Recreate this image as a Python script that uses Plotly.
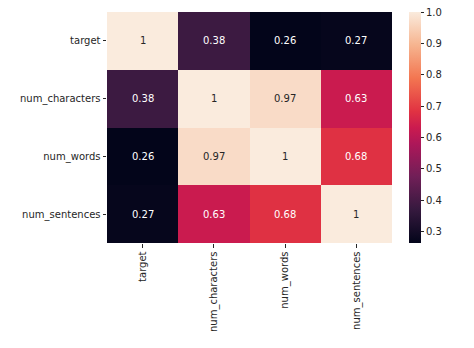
import plotly.graph_objects as go

labels = ["target", "num_characters", "num_words", "num_sentences"]
values = [
    [1.00, 0.38, 0.26, 0.27],
    [0.38, 1.00, 0.97, 0.63],
    [0.26, 0.97, 1.00, 0.68],
    [0.27, 0.63, 0.68, 1.00],
]
cbar_ticks = [0.3, 0.4, 0.5, 0.6, 0.7, 0.8, 0.9, 1.0]

rocket = [
    [0.0, "#03051a"],
    [1/7, "#35193e"],
    [2/7, "#701f57"],
    [3/7, "#ad1759"],
    [0.5, "#cb1b4f"],
    [4/7, "#e13342"],
    [5/7, "#f37651"],
    [6/7, "#f6b48f"],
    [1.0, "#faebdd"],
]

zmin = 0.263
zmax = 1.0

def fmt(v):
    return f"{v:.2g}"

fig = go.Figure()
fig.add_trace(go.Heatmap(
    z=values, x=labels, y=labels,
    colorscale=rocket, zmin=zmin, zmax=zmax,
    xgap=0, ygap=0,
    colorbar=dict(
        x=1.06, xanchor="left", xpad=0, ypad=0,
        y=0.5, yanchor="middle", len=1, lenmode="fraction",
        thickness=12, thicknessmode="pixels",
        outlinewidth=0,
        tickvals=cbar_ticks, ticktext=[f"{t:.1f}" for t in cbar_ticks],
        ticks="outside", ticklen=3.5, tickwidth=0.8, tickcolor="#262626",
        tickfont=dict(family="DejaVu Sans", size=10, color="#262626"),
    ),
    hoverinfo="skip",
))

annotations = []
for i, row in enumerate(values):
    for j, v in enumerate(row):
        norm = (v - zmin) / (zmax - zmin)
        color = "#262626" if norm > 0.75 else "#ffffff"
        annotations.append(dict(
            x=labels[j], y=labels[i], text=fmt(v), showarrow=False,
            font=dict(family="DejaVu Sans", size=10, color=color),
            xref="x", yref="y",
        ))

fig.update_layout(
    width=474, height=348,
    margin=dict(l=107, r=82, t=12, b=105),
    paper_bgcolor="white", plot_bgcolor="white",
    annotations=annotations,
    font=dict(family="DejaVu Sans", size=10, color="#262626"),
    xaxis=dict(
        tickangle=-90, ticks="outside", ticklen=3.5, tickwidth=0.8,
        tickcolor="#262626", showgrid=False, zeroline=False, showline=False,
        tickfont=dict(family="DejaVu Sans", size=10, color="#262626"),
    ),
    yaxis=dict(
        autorange="reversed", ticks="outside", ticklen=3.5, tickwidth=0.8,
        tickcolor="#262626", showgrid=False, zeroline=False, showline=False,
        tickfont=dict(family="DejaVu Sans", size=10, color="#262626"),
    ),
)

fig.write_html("out.html")
